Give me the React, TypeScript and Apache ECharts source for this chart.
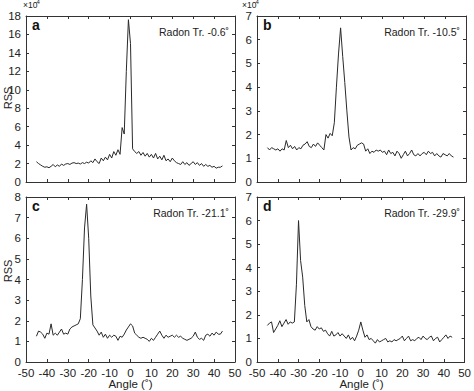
import React, { useEffect, useRef } from "react";
import * as echarts from "echarts";

const angles = [
  -45, -44, -43, -42, -41, -40, -39, -38, -37, -36, -35, -34, -33, -32, -31,
  -30, -29, -28, -27, -26, -25, -24, -23, -22, -21, -20, -19, -18, -17, -16,
  -15, -14, -13, -12, -11, -10, -9, -8, -7, -6, -5, -4, -3, -2, -1, 0, 1, 2,
  3, 4, 5, 6, 7, 8, 9, 10, 11, 12, 13, 14, 15, 16, 17, 18, 19, 20, 21, 22, 23,
  24, 25, 26, 27, 28, 29, 30, 31, 32, 33, 34, 35, 36, 37, 38, 39, 40, 41, 42,
  43, 44,
];

// RSS values, in units of 10^4
const rssA = [
  2.2, 2.0, 1.85, 1.7, 1.6, 1.65, 1.55, 1.7, 1.9, 1.65, 1.85, 1.7, 1.95, 1.8,
  1.95, 2.0, 1.9, 2.05, 2.1, 2.0, 2.05, 1.95, 2.1, 2.0, 2.15, 2.05, 2.3, 2.1,
  2.5, 2.2, 2.0, 2.6, 2.3, 2.7, 2.4, 3.0, 2.6, 3.3, 2.9, 3.5, 3.0, 5.9, 5.2,
  12.0, 17.6, 15.0, 3.6, 3.3, 3.1, 3.3, 2.9, 3.2, 2.8, 3.1, 2.7, 3.0, 2.6, 3.1,
  2.5, 2.8, 2.4, 2.9, 2.3, 2.5, 2.2, 2.6, 2.3, 2.1, 2.0, 1.9, 2.2, 1.9, 2.1,
  1.8, 2.0, 2.2, 1.9, 2.1, 1.8, 2.0, 1.7, 1.9, 1.7, 1.8, 1.6, 1.7, 1.5, 1.6,
  1.6, 1.75,
];

const rssB = [
  1.45, 1.35, 1.45, 1.4, 1.35, 1.4, 1.3, 1.4, 1.35, 1.75, 1.45, 1.55, 1.4, 1.5,
  1.35, 1.45, 1.4, 1.55, 1.6, 1.7, 1.5, 1.45, 1.6, 1.5, 1.65, 1.55, 1.45, 1.35,
  2.0, 1.85, 2.05, 1.95, 2.5, 4.0, 5.4, 6.5, 5.3, 4.2, 3.0, 1.9, 1.35, 1.45,
  1.4, 1.55, 1.6, 1.65, 1.6, 1.3, 1.4, 1.2, 1.3, 1.25, 1.35, 1.3, 1.35, 1.25,
  1.3, 1.15, 1.35, 1.2, 1.25, 1.1, 1.3, 1.2, 1.0, 1.15, 1.3, 1.1, 1.2, 1.35,
  1.15, 1.1, 1.2, 1.1, 1.2, 1.25, 1.15, 1.3, 1.2, 1.25, 1.1, 1.2, 1.1, 1.05,
  1.2, 1.15, 1.1, 1.2, 1.1, 1.05,
];

const rssC = [
  1.25, 1.5, 1.45, 1.35, 1.15, 1.4, 1.35, 1.85, 1.3, 1.4, 1.3, 1.45, 1.6, 1.35,
  1.4, 1.35, 1.6, 1.7, 1.75, 1.8, 1.85, 2.1, 4.0, 6.5, 7.65, 6.0, 3.2, 1.8,
  1.65, 1.5, 1.3, 1.45, 1.2, 1.35, 1.15, 1.3, 1.2, 1.3, 1.25, 1.05, 1.25, 1.2,
  1.35, 1.55, 1.7, 1.85, 1.75, 1.4, 1.3, 1.2, 1.15, 1.2, 1.15, 1.1, 1.0, 1.15,
  1.05, 1.2, 1.35, 1.5, 1.3, 1.15, 1.3, 1.2, 1.25, 1.3, 1.2, 1.3, 1.2, 1.25,
  1.15, 1.1, 1.05, 1.1, 1.15, 1.25, 1.45, 1.2, 1.1, 1.15, 1.05, 1.3, 1.35,
  1.25, 1.4, 1.3, 1.45, 1.35, 1.35, 1.5,
];

const rssD = [
  1.55, 1.65, 1.7, 1.25, 1.4, 1.55, 1.75, 1.5, 1.65, 1.8, 1.6, 1.7, 1.65, 1.7,
  3.3, 6.0, 4.3, 3.6, 2.4, 1.7, 1.8, 1.5, 1.4, 1.35, 1.5, 1.4, 1.45, 1.3, 1.35,
  1.2, 1.1, 1.3, 1.1, 1.15, 1.25, 1.1, 1.2, 1.1, 1.0, 1.15, 0.95, 1.05, 0.9,
  1.1, 1.35, 1.7, 1.35, 1.05, 1.15, 0.95, 1.0, 0.9, 0.8, 0.95, 0.85, 0.9, 0.95,
  1.0, 0.85, 0.9, 0.85, 0.95, 0.9, 0.95, 1.0, 1.1, 0.9, 1.0, 1.1, 0.9, 0.95,
  0.9, 1.0, 1.05, 0.95, 1.1, 1.0, 0.95, 1.05, 1.1, 0.9, 1.0, 1.05, 0.85, 0.95,
  1.05, 1.15, 1.0, 1.1, 1.05,
];

const panelSeries = [rssA, rssB, rssC, rssD];
const panelLetters = ["a", "b", "c", "d"];
const panelNotes = [
  "Radon Tr. -0.6˚",
  "Radon Tr. -10.5˚",
  "Radon Tr. -21.1˚",
  "Radon Tr. -29.9˚",
];
const yMaxes = [18, 7, 8, 7];
const yIntervals = [2, 1, 1, 1];
const xMin = -50;
const xMax = 50;
const xInterval = 10;

const FONT = "'Liberation Sans', Arial, Helvetica, sans-serif";
const INK = "#222";
const AXIS = "#333";

const grids = [
  { left: 26, top: 16, width: 209, height: 166 },
  { left: 257, top: 16, width: 209, height: 166 },
  { left: 26, top: 197, width: 209, height: 165 },
  { left: 257, top: 197, width: 209, height: 165 },
];

export default function App() {
  const ref = useRef<HTMLDivElement>(null);

  useEffect(() => {
    if (!ref.current) return;
    const chart = echarts.init(ref.current, null, { renderer: "svg" });

    const axisLine = { show: true, onZero: false, lineStyle: { color: AXIS, width: 1 } };
    const axisTick = { show: true, inside: true, length: 3, lineStyle: { color: AXIS, width: 1 } };

    const xAxes: any[] = [];
    const yAxes: any[] = [];
    grids.forEach((_, i) => {
      const bottomRow = i >= 2;
      xAxes.push({
        type: "value",
        gridIndex: i,
        position: "bottom",
        min: xMin,
        max: xMax,
        interval: xInterval,
        axisLine,
        axisTick,
        splitLine: { show: false },
        axisLabel: {
          show: bottomRow,
          color: INK,
          fontFamily: FONT,
          fontSize: 11.5,
          margin: 4.5,
          showMinLabel: true,
          showMaxLabel: true,
        },
      });
      yAxes.push({
        type: "value",
        gridIndex: i,
        position: "left",
        min: 0,
        max: yMaxes[i],
        interval: yIntervals[i],
        axisLine,
        axisTick,
        splitLine: { show: false },
        axisLabel: {
          show: true,
          color: INK,
          fontFamily: FONT,
          fontSize: 11.5,
          margin: 5,
        },
      });
    });
    grids.forEach((_, i) => {
      xAxes.push({
        type: "value",
        gridIndex: i,
        position: "top",
        min: xMin,
        max: xMax,
        interval: xInterval,
        axisLine,
        axisTick,
        splitLine: { show: false },
        axisLabel: { show: false },
      });
      yAxes.push({
        type: "value",
        gridIndex: i,
        position: "right",
        min: 0,
        max: yMaxes[i],
        interval: yIntervals[i],
        axisLine,
        axisTick,
        splitLine: { show: false },
        axisLabel: { show: false },
      });
    });

    const series = panelSeries.map((vals, i) => ({
      type: "line",
      xAxisIndex: i,
      yAxisIndex: i,
      showSymbol: false,
      symbol: "none",
      lineStyle: { color: "#2a2a2a", width: 1 },
      data: angles.map((a, k) => [a, vals[k]]),
    }));

    const graphics: any[] = [];
    grids.forEach((g, i) => {
      graphics.push({
        type: "text",
        x: g.left + 6,
        y: g.top + 9,
        style: {
          text: panelLetters[i],
          fontFamily: FONT,
          fontWeight: "bold",
          fontSize: 14,
          fill: "#111",
          verticalAlign: "middle",
          align: "left",
        },
      });
      graphics.push({
        type: "text",
        x: g.left + g.width - 6,
        y: g.top + 16,
        style: {
          text: panelNotes[i],
          fontFamily: FONT,
          fontSize: 10.5,
          fill: INK,
          verticalAlign: "middle",
          align: "right",
        },
      });
    });
    // exponent labels
    const expX = [23, 242];
    expX.forEach((x) => {
      graphics.push({
        type: "text",
        x,
        y: 5,
        style: {
          text: "×10",
          fontFamily: FONT,
          fontSize: 8.5,
          fill: INK,
          verticalAlign: "middle",
          align: "left",
        },
      });
      graphics.push({
        type: "text",
        x: x + 13.5,
        y: 2,
        style: {
          text: "4",
          fontFamily: FONT,
          fontSize: 6,
          fill: INK,
          verticalAlign: "middle",
          align: "left",
        },
      });
    });
    // y-axis titles
    [98, 271].forEach((y) => {
      graphics.push({
        type: "text",
        x: 8,
        y,
        rotation: Math.PI / 2,
        style: {
          text: "RSS",
          fontFamily: FONT,
          fontSize: 11,
          fill: INK,
          verticalAlign: "middle",
          align: "center",
        },
      });
    });
    // x-axis titles
    [grids[2], grids[3]].forEach((g) => {
      graphics.push({
        type: "text",
        x: g.left + g.width / 2,
        y: 383.5,
        style: {
          text: "Angle (˚)",
          fontFamily: FONT,
          fontSize: 11.5,
          fill: INK,
          verticalAlign: "middle",
          align: "center",
        },
      });
    });

    chart.setOption({
      animation: false,
      backgroundColor: "#ffffff",
      grid: grids.map((g) => ({ ...g, containLabel: false })),
      xAxis: xAxes,
      yAxis: yAxes,
      series,
      graphic: graphics,
    });

    return () => chart.dispose();
  }, []);

  return (
    <div
      ref={ref}
      style={{ position: "absolute", left: 0, top: 0, width: 474, height: 391 }}
    />
  );
}
